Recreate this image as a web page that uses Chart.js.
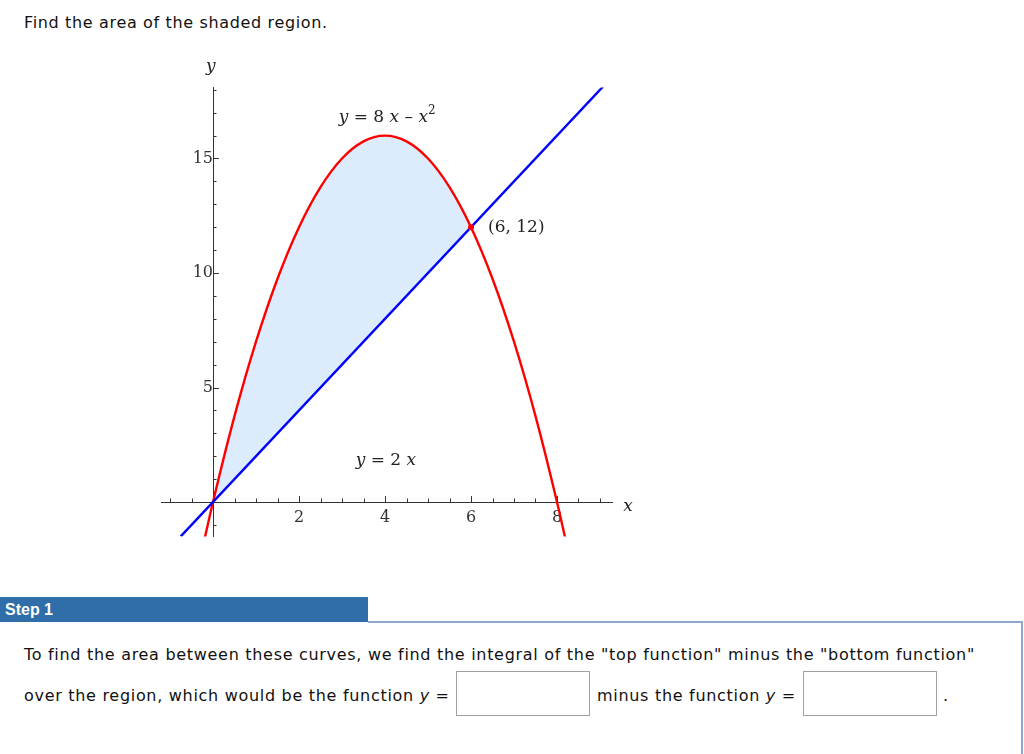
<!DOCTYPE html>
<html>
<head>
<meta charset="utf-8">
<script src="https://cdn.jsdelivr.net/npm/chart.js@4.4.1/dist/chart.umd.min.js"></script>
<style>
  html, body { margin: 0; padding: 0; background: #fff; }
  body { width: 1024px; height: 754px; position: relative; overflow: hidden;
         font-family: "DejaVu Sans", Verdana, sans-serif; color: #111; }
  #title { position: absolute; left: 24px; top: 13px; font-size: 16px; letter-spacing: 0.65px; }
  #wrap { position: absolute; left: 140px; top: 50px; width: 520px; height: 510px; }
  #step { position: absolute; left: 0; top: 597px; width: 368px; height: 25px; background: #2f6ea8;
          color: #fff; font: bold 16px "Liberation Sans", Arial, sans-serif; line-height: 25px; padding-left: 5px; box-sizing: border-box; }
  #boxTop { position: absolute; left: 368px; top: 621px; width: 654px; border-top: 2px solid #90a9c9; }
  #boxRight { position: absolute; left: 1021px; top: 621px; height: 140px; border-left: 2px solid #90a9c9; }
  .line { position: absolute; left: 24px; font-size: 16px; white-space: nowrap; letter-spacing: 0.7px; }
  .inp { position: absolute; top: 671px; width: 134px; height: 45px; border: 1px solid #a0a0a0; box-sizing: border-box; background: #fff; }
</style>
</head>
<body>
<div id="title">Find the area of the shaded region.</div>
<div id="wrap"><canvas id="plot" width="520" height="510"></canvas></div>
<div id="step">Step 1</div>
<div id="boxTop"></div>
<div id="boxRight"></div>
<div class="line" style="top:645px">To find the area between these curves, we find the integral of the "top function" minus the "bottom function"</div>
<div class="line" style="top:686px">over the region, which would be the function <i>y</i> =</div>
<div class="inp" style="left:456px"></div>
<div class="line" style="top:686px;left:597px">minus the function <i>y</i> =</div>
<div class="inp" style="left:803px"></div>
<div class="line" style="top:686px;left:943px">.</div>

<script>
// curve y = 8x - x^2
var parabolaX = [-0.19, 0, 0.5, 1, 1.5, 2, 2.5, 3, 3.5, 4, 4.5, 5, 5.5, 6, 6.5, 7, 7.5, 8, 8.19];
var parabolaY = [-1.56, 0, 3.75, 7, 9.75, 12, 13.75, 15, 15.75, 16, 15.75, 15, 13.75, 12, 9.75, 7, 3.75, 0, -1.56];
// line y = 2x
var lineX = [-0.75, 9.1];
var lineY = [-1.5, 18.2];
// lower edge of the shaded region
var shadeX = [0, 6];
var shadeY = [0, 12];
var crossPoint = [6, 12];

// axes
var xTickLabels = [2, 4, 6, 8];
var yTickLabels = [5, 10, 15];
var xMinorTicks = [-1, -0.5, 0.5, 1, 1.5, 2.5, 3, 3.5, 4.5, 5, 5.5, 6.5, 7, 7.5, 8.5, 9];
var yMinorTicks = [-1, 1, 2, 3, 4, 6, 7, 8, 9, 11, 12, 13, 14, 16, 17, 18];

function pts(xs, ys) {
    return xs.map(function(x, i){ return {x: x, y: ys[i]}; });
}

var serif = '"DejaVu Serif", "Liberation Serif", serif';
var axisColor = '#333';

// tick marks (major + minor) drawn on the inner side like the original
var tickMarks = {
    id: 'tickMarks',
    afterDraw: function(chart) {
        var ctx = chart.ctx, xs = chart.scales.x, ys = chart.scales.y;
        var x0 = xs.getPixelForValue(0), y0 = ys.getPixelForValue(0);
        ctx.save();
        ctx.strokeStyle = axisColor;
        ctx.lineWidth = 1;
        ctx.beginPath();
        xTickLabels.forEach(function(v){
            var p = Math.round(xs.getPixelForValue(v)) + 0.5;
            ctx.moveTo(p, y0); ctx.lineTo(p, y0 - 6);
        });
        xMinorTicks.forEach(function(v){
            var p = Math.round(xs.getPixelForValue(v)) + 0.5;
            ctx.moveTo(p, y0); ctx.lineTo(p, y0 - 3.5);
        });
        yTickLabels.forEach(function(v){
            var p = Math.round(ys.getPixelForValue(v)) + 0.5;
            ctx.moveTo(x0, p); ctx.lineTo(x0 + 6, p);
        });
        yMinorTicks.forEach(function(v){
            var p = Math.round(ys.getPixelForValue(v)) + 0.5;
            ctx.moveTo(x0, p); ctx.lineTo(x0 + 3.5, p);
        });
        ctx.stroke();
        ctx.restore();
    }
};

// math labels: pieces of [text, italic, superscript]
function drawMath(ctx, parts, x, y, align) {
    var size = 17;
    var w = 0;
    parts.forEach(function(p){
        ctx.font = (p[1] ? 'italic ' : '') + (p[2] ? 12 : size) + 'px ' + serif;
        w += ctx.measureText(p[0]).width;
    });
    var cx = align === 'left' ? x : x - w / 2;
    parts.forEach(function(p){
        ctx.font = (p[1] ? 'italic ' : '') + (p[2] ? 12 : size) + 'px ' + serif;
        ctx.fillText(p[0], cx, p[2] ? y - 6 : y);
        cx += ctx.measureText(p[0]).width;
    });
}

var mathLabels = {
    id: 'mathLabels',
    afterDraw: function(chart) {
        var ctx = chart.ctx, xs = chart.scales.x, ys = chart.scales.y;
        ctx.save();
        ctx.fillStyle = '#222';
        ctx.textBaseline = 'middle';
        ctx.textAlign = 'left';
        drawMath(ctx, [['y', true], [' = 8 ', false], ['x', true], [' \u2013 ', false], ['x', true], ['2', false, true]],
                 xs.getPixelForValue(4.05), ys.getPixelForValue(16.8));
        drawMath(ctx, [['y', true], [' = 2 ', false], ['x', true]],
                 xs.getPixelForValue(4.02), ys.getPixelForValue(1.83));
        drawMath(ctx, [['(6, 12)', false]],
                 xs.getPixelForValue(crossPoint[0]) + 17, ys.getPixelForValue(crossPoint[1]), 'left');
        drawMath(ctx, [['y', true]], xs.getPixelForValue(-0.05), ys.getPixelForValue(19.0));
        drawMath(ctx, [['x', true]], xs.getPixelForValue(9.65), ys.getPixelForValue(-0.2));
        ctx.restore();
    }
};

var ctx = document.getElementById('plot');
var chart = new Chart(ctx, {
    type: 'line',
    data: {
        datasets: [{
            label: 'intersection',
            data: pts([crossPoint[0]], [crossPoint[1]]),
            showLine: false,
            pointRadius: 3,
            pointBackgroundColor: '#ff0000',
            pointBorderWidth: 0
        }, {
            label: 'y = 2x',
            data: pts(lineX, lineY),
            borderColor: '#0000ff',
            borderWidth: 2.4,
            pointRadius: 0,
            fill: false
        }, {
            label: 'y = 8x - x^2',
            data: pts(parabolaX, parabolaY),
            borderColor: '#ff0000',
            borderWidth: 2.4,
            pointRadius: 0,
            cubicInterpolationMode: 'monotone',
            backgroundColor: '#dcecfd',
            fill: {target: 3}
        }, {
            label: 'shade edge',
            data: pts(shadeX, shadeY),
            borderWidth: 0,
            borderColor: 'rgba(0,0,0,0)',
            pointRadius: 0,
            fill: false
        }]
    },
    options: {
        responsive: false,
        animation: false,
        events: [],
        layout: { padding: { left: 21.4, right: 47.1, top: 37.5, bottom: 23.6 } },
        plugins: { legend: { display: false }, tooltip: { enabled: false } },
        scales: {
            x: {
                type: 'linear',
                min: -1.2, max: 9.3,
                position: { y: 0 },
                afterFit: function(s){ s.height = 0; },
                afterBuildTicks: function(s){ s.ticks = xTickLabels.map(function(v){ return {value: v}; }); },
                grid: { drawOnChartArea: false, drawTicks: false },
                border: { color: axisColor, width: 1 },
                ticks: { padding: 6, color: '#333', font: { family: serif, size: 16 }, maxRotation: 0 }
            },
            y: {
                type: 'linear',
                min: -1.5, max: 18.1,
                position: { x: 0 },
                afterFit: function(s){ s.width = 0; },
                afterBuildTicks: function(s){ s.ticks = yTickLabels.map(function(v){ return {value: v}; }); },
                grid: { drawOnChartArea: false, drawTicks: false },
                border: { color: axisColor, width: 1 },
                ticks: { padding: 3, color: '#333', font: { family: serif, size: 16 } }
            }
        }
    },
    plugins: [tickMarks, mathLabels]
});
</script>
</body>
</html>
